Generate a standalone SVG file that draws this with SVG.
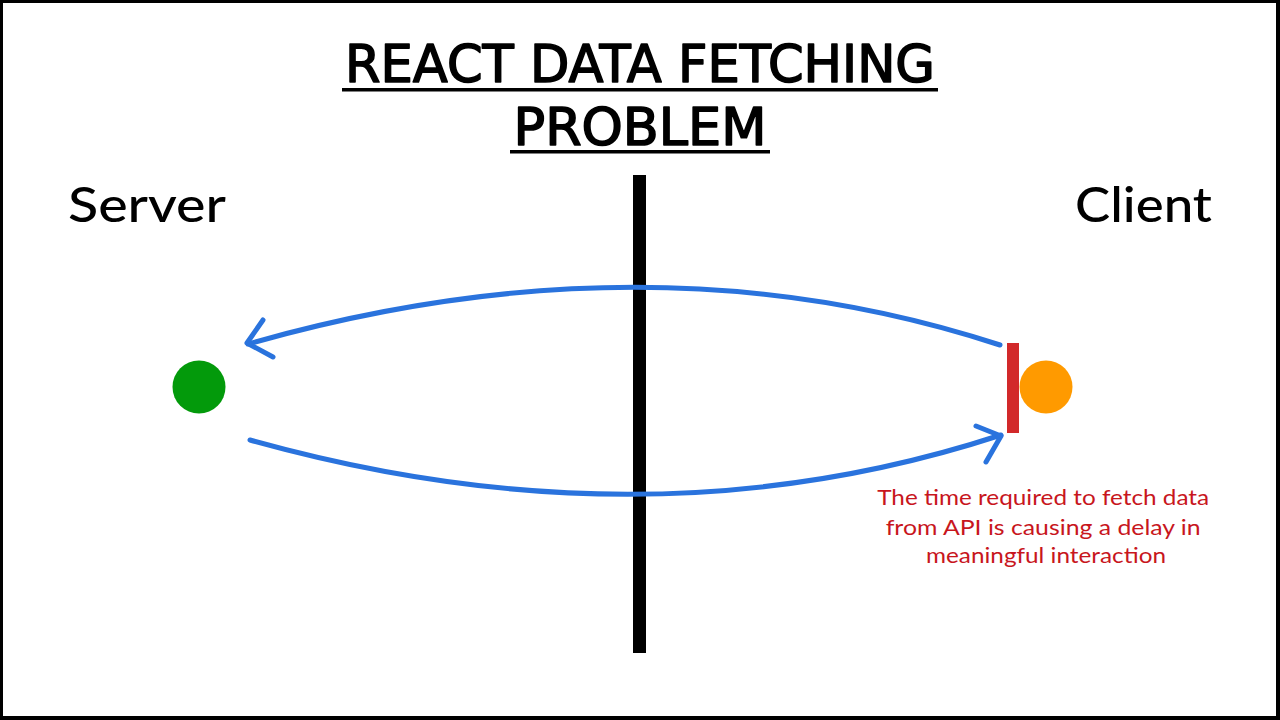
<svg xmlns="http://www.w3.org/2000/svg" width="1280" height="720" viewBox="0 0 1280 720">
<style>
.title{font-family:"DejaVu Sans","Liberation Sans",sans-serif;font-size:52px;fill:#000;stroke:#000;stroke-width:1.6;stroke-linejoin:round}
.side{font-family:"Lato","Liberation Sans",sans-serif;font-weight:500;font-size:48px;fill:#000}
.note{font-family:"Lato","Liberation Sans",sans-serif;font-size:22px;fill:#c8161d}
.flow{fill:none;stroke:#2a73dd;stroke-width:5;stroke-linecap:round;stroke-linejoin:round}
</style>
<rect x="0" y="0" width="1280" height="720" fill="#fff"/>
<path d="M0,0H1280V720H0Z M3,3V716H1276V3Z" fill="#000" fill-rule="evenodd"/>
<g id="title">
<text class="title" x="640" y="82" text-anchor="middle" textLength="590" lengthAdjust="spacingAndGlyphs">REACT DATA FETCHING</text>
<rect x="342" y="88" width="596" height="3.5" fill="#000"/>
<text class="title" x="640" y="145" text-anchor="middle" textLength="253" lengthAdjust="spacingAndGlyphs">PROBLEM</text>
<rect x="510" y="150" width="260" height="3.5" fill="#000"/>
</g>
<g id="divider"><rect x="633" y="175" width="13" height="478" fill="#000"/></g>
<g id="server">
<text class="side" x="68" y="222" textLength="158" lengthAdjust="spacingAndGlyphs">Server</text>
<circle cx="199" cy="387" r="26.5" fill="#039a0b"/>
</g>
<g id="client">
<text class="side" x="1075" y="222" textLength="137" lengthAdjust="spacingAndGlyphs">Client</text>
<circle cx="1046" cy="387" r="26.5" fill="#ff9a00"/>
<rect x="1007" y="343" width="12" height="90" fill="#d2292a"/>
</g>
<g id="note">
<text class="note" text-anchor="middle">
<tspan x="1046" y="505" textLength="332" lengthAdjust="spacingAndGlyphs">The time required to fetch data</tspan>
<tspan x="1046" y="535" textLength="315" lengthAdjust="spacingAndGlyphs">from API is causing a delay in</tspan>
<tspan x="1046" y="563" textLength="240" lengthAdjust="spacingAndGlyphs">meaningful interaction</tspan>
</text>
</g>
<g id="connectors">
<path class="flow" d="M1000,345 Q648,230 248,344"/>
<polyline class="flow" points="263,320 247,343 273,357"/>
<path class="flow" d="M250,440 Q646.5,551 1001,435"/>
<polyline class="flow" points="976,426 1001,436 986,462"/>
</g>
</svg>
